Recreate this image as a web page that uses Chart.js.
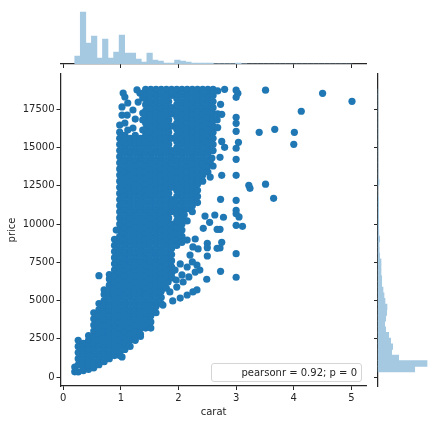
<!DOCTYPE html>
<html>
<head>
<meta charset="utf-8">
<style>
    html, body { margin: 0; padding: 0; background: #fff; }
    canvas { position: absolute; }
    #legend-box {
        position: absolute; left: 211px; top: 363px; width: 145px; height: 17px;
        padding-right: 4px; text-align: right; line-height: 17px;
        font: 10px/17px "DejaVu Sans"; color: #262626;
        border: 1px solid #d5d5d5; border-radius: 3px; background: rgba(255,255,255,0.8);
    }
</style>
<script src="https://cdn.jsdelivr.net/npm/chart.js@4"></script>
</head>
<body>
<canvas id="scatter" width="372" height="364" style="left:0;top:60px"></canvas>
<canvas id="top-hist" width="372" height="70" style="left:0;top:0"></canvas>
<canvas id="right-hist" width="66" height="364" style="left:374px;top:60px"></canvas>
<div id="legend-box">pearsonr = 0.92; p = 0</div>
<script>
const xTicks = [0, 1, 2, 3, 4, 5];
const yTicks = [0, 2500, 5000, 7500, 10000, 12500, 15000, 17500];

// Dense part of the cloud, estimated as columns: one carat, many prices
const caratColumns = [0.20, 0.26, 0.35, 0.44, 0.53, 0.62, 0.71, 0.80, 0.89, 0.98, 1.07, 1.16, 1.25, 1.34, 1.43, 1.52, 1.61, 1.70, 1.79, 1.88, 1.97, 2.06, 2.15, 2.24, 2.33, 2.42, 2.51, 2.60];
const priceColumns = [
    [340, 650],
    [330, 800, 1200, 1600, 2000, 2400],
    [420, 600, 1000, 1400, 1800, 2200],
    [500, 800, 1200, 1600, 2000, 2400, 2700],
    [600, 1000, 1400, 1800, 2200, 2600, 3000, 3400, 3800, 4200],
    [800, 1200, 1600, 2000, 2400, 2800, 3200, 3600, 4000, 4400, 4800],
    [1000, 1400, 1800, 2200, 2600, 3000, 3400, 3800, 4200, 4600, 5000, 5400, 5700],
    [1200, 1600, 2000, 2400, 2800, 3200, 3600, 4000, 4400, 4800, 5200, 5600, 6000, 6400, 6700],
    [1400, 1800, 2200, 2600, 3000, 3400, 3800, 4200, 4600, 5000, 5400, 5800, 6200, 6600, 7000, 7400, 7800, 8200, 8600, 9000],
    [1400, 1600, 2000, 2400, 2800, 3200, 3600, 4000, 4400, 4800, 5200, 5600, 6000, 6400, 6800, 7200, 7600, 8000, 8400, 8800, 9200, 9600, 10000, 10400, 10800, 11200, 11600, 12000, 12400, 12800, 13200, 13600, 14000, 14400, 14800, 15200, 15600, 16000],
    [1800, 2200, 2600, 3000, 3400, 3800, 4200, 4600, 5000, 5400, 5800, 6200, 6600, 7000, 7400, 7800, 8200, 8600, 9000, 9400, 9800, 10200, 10600, 11000, 11400, 11800, 12200, 12600, 13000, 13400, 13800, 14200, 14600, 15000, 15400, 15800],
    [2000, 2400, 2800, 3200, 3600, 4000, 4400, 4800, 5200, 5600, 6000, 6400, 6800, 7200, 7600, 8000, 8400, 8800, 9200, 9600, 10000, 10400, 10800, 11200, 11600, 12000, 12400, 12800, 13200, 13600, 14000, 14400, 14800, 15200, 15600],
    [2400, 2600, 3000, 3400, 3800, 4200, 4600, 5000, 5400, 5800, 6200, 6600, 7000, 7400, 7800, 8200, 8600, 9000, 9400, 9800, 10200, 10600, 11000, 11400, 11800, 12200, 12600, 13000, 13400, 13800, 14200, 14600, 15000, 15400, 15800],
    [2650, 2800, 3200, 3600, 4000, 4400, 4800, 5200, 5600, 6000, 6400, 6800, 7200, 7600, 8000, 8400, 8800, 9200, 9600, 10000, 10400, 10800, 11200, 11600, 12000, 12400, 12800, 13200, 13600, 14000, 14400, 14800, 15200, 15600],
    [3200, 3400, 3800, 4200, 4600, 5000, 5400, 5800, 6200, 6600, 7000, 7400, 7800, 8200, 8600, 9000, 9400, 9800, 10200, 10600, 11000, 11400, 11800, 12200, 12600, 13000, 13400, 13800, 14200, 14600, 15000, 15400, 15800, 16200, 16600, 17000, 17400, 17800, 18200, 18600, 18800],
    [3200, 3600, 4000, 4400, 4800, 5200, 5600, 6000, 6400, 6800, 7200, 7600, 8000, 8400, 8800, 9200, 9600, 10000, 10400, 10800, 11200, 11600, 12000, 12400, 12800, 13200, 13600, 14000, 14400, 14800, 15200, 15600, 16000, 16400, 16800, 17200, 17600, 18000, 18400, 18800],
    [4200, 4600, 5000, 5400, 5800, 6200, 6600, 7000, 7400, 7800, 8200, 8600, 9000, 9400, 9800, 10200, 10600, 11000, 11400, 11800, 12200, 12600, 13000, 13400, 13800, 14200, 14600, 15000, 15400, 15800, 16200, 16600, 17000, 17400, 17800, 18200, 18600, 18800],
    [4800, 5200, 5600, 6000, 6400, 6800, 7200, 7600, 8000, 8400, 8800, 9200, 9600, 10000, 10400, 10800, 11200, 11600, 12000, 12400, 12800, 13200, 13600, 14000, 14400, 14800, 15200, 15600, 16000, 16400, 16800, 17200, 17600, 18000, 18400, 18800],
    [5800, 6200, 6600, 7000, 7400, 7800, 8200, 8600, 9000, 9400, 9800, 10200, 10600, 11000, 11400, 11800, 12200, 12600, 13000, 13400, 13800, 14200, 14600, 15000, 15400, 15800, 16200, 16600, 17000, 17400, 17800, 18200, 18600, 18800],
    [6800, 7200, 7600, 8000, 8400, 8800, 9200, 9600, 10000, 10800, 11200, 11600, 12400, 12800, 13200, 13600, 14000, 14400, 14800, 15600, 16400, 17200, 17600, 18400, 18800],
    [8600, 9000, 9400, 9800, 10200, 10600, 11000, 11400, 11800, 12200, 12600, 13000, 13400, 13800, 14200, 14600, 15000, 15400, 15800, 16200, 16600, 17000, 17400, 17800, 18200, 18600, 18800],
    [8800, 9200, 9600, 10000, 10400, 10800, 11200, 11600, 12000, 12400, 12800, 13200, 13600, 14000, 14400, 14800, 15200, 15600, 16000, 16400, 16800, 17200, 17600, 18000, 18400, 18800],
    [10200, 11000, 11400, 11800, 12200, 12600, 13000, 13400, 13800, 14200, 14600, 15000, 15400, 15800, 16200, 16600, 17000, 17400, 17800, 18200, 18600, 18800],
    [10800, 11200, 11600, 12000, 12400, 12800, 13200, 13600, 14000, 14400, 14800, 15200, 15600, 16000, 16400, 16800, 17200, 17600, 18000, 18400, 18800],
    [11400, 11800, 12200, 12600, 13000, 13400, 13800, 14200, 14600, 15000, 15400, 15800, 16200, 16600, 17000, 17400, 17800, 18200, 18600, 18800],
    [12800, 13200, 13600, 14000, 14400, 14800, 15200, 15600, 16000, 16400, 16800, 17200, 17600, 18000, 18400, 18800],
    [13400, 13800, 14200, 14600, 15000, 15400, 15800, 16200, 16600, 17000, 17400, 17800, 18200, 18600, 18800],
    [14800, 15200, 15600, 16000, 16400, 16800, 17200, 17600, 18000, 18400, 18800]
];

// Points that stand out at the edges of the cloud, read one by one
const edgeCarats = [
    2.80, 3.00, 3.03, 3.00, 3.51, 4.50, 5.01, 2.73, 4.13, 2.75, 3.00, 3.00, 3.00, 3.40, 3.67, 4.01, 2.75, 3.04, 2.80, 3.00,
    4.00, 2.72, 3.00, 2.75, 3.00, 3.22, 3.24, 3.51, 2.73, 3.00, 3.65, 3.00, 3.00, 3.05, 2.78, 3.00, 3.11, 2.75, 3.00, 2.73,
    3.00, 2.72, 2.72, 2.63, 2.54, 2.46, 2.43, 2.67, 2.50, 2.67, 2.50, 2.50, 2.49, 2.60, 2.55, 2.55, 2.43, 2.58, 1.02, 1.73,
    1.82, 1.85, 1.90, 2.03, 2.15, 2.25, 2.32, 1.97, 2.08, 2.18, 2.29, 2.37, 2.15, 2.32, 2.03, 2.20, 2.34, 2.25, 2.15, 2.29,
    2.24, 1.94, 1.89, 1.96, 2.06, 0.62, 1.04, 1.07, 1.12, 1.02, 1.02, 1.11, 1.21, 1.25, 1.28, 1.33, 1.38, 1.30, 0.98, 1.07,
    1.21, 1.12, 1.38, 1.38, 1.38, 0.92, 2.68, 2.68, 2.68, 2.67, 1.83, 1.83, 1.83, 1.83, 1.83, 1.83, 2.10
];
const edgePrices = [
    18800, 18750, 18540, 18280, 18750, 18540, 18020, 17820, 17370, 17170, 16970, 16580, 16060, 15990, 16190, 15990, 15400, 15340, 15010, 14950,
    15210, 14360, 14230, 13180, 13180, 12530, 12330, 12600, 11610, 11550, 11680, 10900, 10670, 10460, 10440, 9915, 9850, 8800, 8060, 6910,
    6520, 9650, 8430, 10590, 10110, 10520, 9720, 9650, 8740, 8410, 8450, 7910, 6390, 13790, 14070, 13070, 13330, 14310, 1310, 4700,
    6210, 5560, 4970, 5160, 5360, 5560, 5690, 5880, 6210, 6540, 6860, 6990, 7190, 7320, 7390, 7970, 8370, 8500, 8950, 9020,
    7520, 6990, 6470, 6340, 6670, 6620, 18560, 18300, 17910, 17650, 17120, 17120, 17450, 16860, 18760, 18560, 18240, 17970, 16470, 16600,
    16270, 16140, 16140, 17250, 16800, 9600, 18700, 17200, 16300, 16800, 18000, 16800, 16000, 15200, 12000, 10400, 10600
];

const caratBins = [0.248, 0.344, 0.441, 0.537, 0.633, 0.729, 0.825, 0.922, 1.018, 1.114, 1.210, 1.306, 1.403, 1.499, 1.595, 1.691, 1.787, 1.884, 1.980, 2.076, 2.172, 2.268, 2.365, 2.461, 2.557, 2.653, 2.749, 2.846, 2.942, 3.038, 3.134, 3.230, 3.327, 3.423, 3.519, 3.615, 3.711, 3.808, 3.904, 4.000, 4.096, 4.192, 4.289, 4.385, 4.481, 4.577, 4.673, 4.770, 4.866, 4.962];
const caratCounts = [1600, 10490, 4240, 5650, 1210, 5040, 1210, 2420, 5850, 2220, 2220, 1010, 400, 2220, 810, 600, 200, 200, 810, 600, 400, 200, 200, 200, 200, 20, 20, 15, 10, 200, 10, 5, 5, 5, 5, 3, 3, 0, 0, 3, 3, 0, 0, 0, 1, 0, 0, 0, 0, 1];

const priceBins = [511, 881, 1251, 1621, 1991, 2361, 2731, 3101, 3471, 3841, 4211, 4581, 4951, 5321, 5691, 6061, 6431, 6801, 7171, 7541, 7911, 8281, 8651, 9021, 9391, 9761, 10131, 10501, 10871, 11241, 11611, 11981, 12351, 12721, 13091, 13461, 13831, 14201, 14571, 14941, 15311, 15681, 16051, 16421, 16791, 17161, 17531, 17901, 18271, 18641];
const priceCounts = [5920, 7890, 3360, 2240, 2400, 2080, 1760, 1280, 1120, 1280, 1440, 1490, 1170, 1010, 850, 640, 640, 530, 530, 530, 320, 240, 210, 320, 180, 170, 170, 160, 160, 160, 160, 40, 40, 210, 50, 50, 50, 50, 40, 40, 40, 40, 40, 40, 40, 40, 40, 40, 40, 40];

const ink = '#262626';
const dotBlue = '#1f77b4';
const histBlue = '#a5c9e1';
const xRange = { min: -0.047, max: 5.265 };
const yRange = { min: -588, max: 19804 };

Chart.defaults.font.family = '"DejaVu Sans"';
Chart.defaults.font.size = 10;
Chart.defaults.color = ink;
Chart.defaults.animation = false;
Chart.defaults.responsive = false;
Chart.defaults.plugins.legend.display = false;
Chart.defaults.plugins.tooltip.enabled = false;

function buildPoints() {
    const points = [];
    caratColumns.forEach((carat, i) => {
        priceColumns[i].forEach(price => points.push({ x: carat, y: price }));
    });
    edgeCarats.forEach((carat, i) => points.push({ x: carat, y: edgePrices[i] }));
    return points;
}

function tickAt(values) {
    return function(scale) {
        scale.ticks = values.map(v => ({ value: v }));
    };
}

function axisLook(labels) {
    return {
        border: { color: ink, width: 1.25 },
        grid: { drawOnChartArea: false, offset: false, color: ink, tickColor: ink, tickLength: 4, tickWidth: 1 },
        ticks: {
            autoSkip: false, maxRotation: 0, includeBounds: false, padding: 2, color: ink,
            callback: labels ? (v => String(v)) : (() => '')
        }
    };
}

function drawScatter() {
    new Chart(document.getElementById('scatter'), {
        type: 'scatter',
        data: {
            datasets: [{
                data: buildPoints(),
                backgroundColor: dotBlue,
                pointRadius: 3.6,
                borderWidth: 0
            }]
        },
        options: {
            layout: { padding: { top: 14, right: 5.3, left: 0, bottom: 0 } },
            scales: {
                x: {
                    ...axisLook(true), ...xRange,
                    afterBuildTicks: tickAt(xTicks),
                    afterFit: s => { s.height = 38; },
                    title: { display: true, text: 'carat', color: ink, padding: { top: 0, bottom: 6 }, font: { size: 10 } }
                },
                y: {
                    ...axisLook(true), ...yRange,
                    afterBuildTicks: tickAt(yTicks),
                    afterFit: s => { s.width = 60.5; },
                    title: { display: true, text: 'price', color: ink, padding: { top: 6.5, bottom: 0 }, font: { size: 10 } }
                }
            }
        }
    });
}

function drawTopHist() {
    new Chart(document.getElementById('top-hist'), {
        type: 'bar',
        data: {
            datasets: [{
                data: caratBins.map((c, i) => ({ x: c, y: caratCounts[i] })),
                backgroundColor: histBlue,
                borderWidth: 0,
                barPercentage: 1,
                categoryPercentage: 1
            }]
        },
        options: {
            layout: { padding: { top: 9.4, right: 5.3, left: 60.5, bottom: 0 } },
            scales: {
                x: {
                    type: 'linear', ...axisLook(false), ...xRange, offset: false,
                    afterBuildTicks: tickAt(xTicks),
                    afterFit: s => { s.height = 6; }
                },
                y: { display: false, min: 0, max: 11015 }
            }
        }
    });
}

function drawRightHist() {
    new Chart(document.getElementById('right-hist'), {
        type: 'bar',
        data: {
            datasets: [{
                data: priceBins.map((p, i) => ({ x: priceCounts[i], y: p })),
                backgroundColor: histBlue,
                borderWidth: 0,
                barPercentage: 1,
                categoryPercentage: 1
            }]
        },
        options: {
            indexAxis: 'y',
            layout: { padding: { top: 14, right: 10.5, left: 0, bottom: 38 } },
            scales: {
                y: {
                    type: 'linear', ...axisLook(false), ...yRange, offset: false,
                    afterBuildTicks: tickAt(yTicks),
                    afterFit: s => { s.width = 3.7; }
                },
                x: { display: false, min: 0, max: 8285 }
            }
        }
    });
}

document.addEventListener('DOMContentLoaded', function() {
    drawScatter();
    drawTopHist();
    drawRightHist();
});
</script>
</body>
</html>
